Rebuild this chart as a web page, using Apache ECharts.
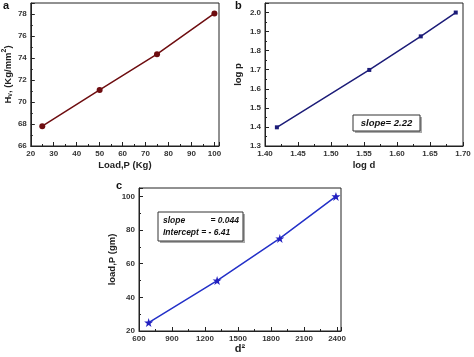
<!DOCTYPE html>
<html><head><meta charset="utf-8">
<script src="https://cdn.jsdelivr.net/npm/echarts@6/dist/echarts.min.js"></script>
<style>html,body{margin:0;padding:0;background:#fff}#c{width:474px;height:357px}</style>
</head><body><div id="c"></div>
<script>
// Panel a: Vickers hardness vs load
const loadA = [25, 50, 75, 100];
const hvA = [67.8, 71.1, 74.35, 78.05];
// Panel b: log p vs log d
const logD = [1.418, 1.558, 1.636, 1.689];
const logP = [1.398, 1.699, 1.875, 2.0];
// Panel c: load vs d^2
const d2C = [688, 1310, 1880, 2390];
const loadC = [25, 50, 75, 100];

const pairs = (xs, ys) => xs.map((x, i) => [x, ys[i]]);
const FONT = '"Liberation Sans", Arial, sans-serif';
const lbl = { fontFamily: FONT, fontSize: 8, fontWeight: 'bold', color: '#333', margin: 4 };
const nameStyle = { fontFamily: FONT, fontSize: 9.5, fontWeight: 'bold', color: '#222' };
function ax(o) {
  return Object.assign({
    type: 'value',
    axisLine: { show: true, lineStyle: { color: '#222', width: 1 } },
    axisTick: { show: true, inside: true, length: 4, lineStyle: { color: '#222' } },
    minorTick: { show: true, splitNumber: 2, length: 2, lineStyle: { color: '#222' } },
    splitLine: { show: false },
    nameLocation: 'middle',
    nameTextStyle: nameStyle
  }, o);
}
const chart = echarts.init(document.getElementById('c'), null, { renderer: 'canvas' });
const border = { show: true, borderColor: '#222', borderWidth: 1, backgroundColor: 'transparent' };
chart.setOption({
  animation: false,
  grid: [
    Object.assign({ left: 28, top: 3, width: 191, height: 143 }, border),
    Object.assign({ left: 265, top: 3, width: 198, height: 143 }, border),
    Object.assign({ left: 139, top: 188, width: 202, height: 143 }, border)
  ],
  xAxis: [
    ax({ gridIndex: 0, min: 20, max: 102, interval: 10, name: 'Load,P (Kg)', nameGap: 14,
      axisLabel: Object.assign({ showMaxLabel: false }, lbl) }),
    ax({ gridIndex: 1, min: 1.40, max: 1.70, interval: 0.05, name: 'log d', nameGap: 14,
      axisLabel: Object.assign({ formatter: v => v.toFixed(2) }, lbl) }),
    ax({ gridIndex: 2, min: 600, max: 2436, interval: 300, name: 'd²', nameGap: 10,
      nameTextStyle: Object.assign({}, nameStyle, { fontSize: 11 }),
      axisLabel: Object.assign({ showMaxLabel: false, formatter: v => String(Math.round(v)) }, lbl) })
  ],
  yAxis: [
    ax({ gridIndex: 0, min: 66, max: 79, interval: 2, name: '{b|H}{sub|v}{b|, (Kg/mm}{sup|2}{b|)}', nameGap: 13,
      nameTextStyle: Object.assign({}, nameStyle, { rich: {
        b: { fontFamily: FONT, fontSize: 9.5, fontWeight: 'bold', color: '#222' },
        sub: { fontFamily: FONT, fontSize: 6.5, fontWeight: 'bold', color: '#222', padding: [5, 0, 0, 0] },
        sup: { fontFamily: FONT, fontSize: 7, fontWeight: 'bold', color: '#222', padding: [0, 0, 7, 0] } } }),
      axisLabel: Object.assign({ showMaxLabel: false }, lbl) }),
    ax({ gridIndex: 1, min: 1.3, max: 2.05, interval: 0.1, name: 'log p', nameGap: 22,
      axisLabel: Object.assign({ showMaxLabel: false, formatter: v => v.toFixed(1) }, lbl) }),
    ax({ gridIndex: 2, min: 20, max: 105, interval: 20, name: 'load,P (gm)', nameGap: 17,
      axisLabel: Object.assign({ showMaxLabel: false }, lbl) })
  ],
  series: [
    { type: 'line', xAxisIndex: 0, yAxisIndex: 0, data: pairs(loadA, hvA), symbol: 'circle', symbolSize: 6,
      lineStyle: { color: '#6e0d10', width: 1.5 }, itemStyle: { color: '#6e0d10' } },
    { type: 'line', xAxisIndex: 1, yAxisIndex: 1, data: pairs(logD, logP), symbol: 'rect', symbolSize: 4,
      lineStyle: { color: '#1c1c78', width: 1.5 }, itemStyle: { color: '#1c1c78' } },
    { type: 'line', xAxisIndex: 2, yAxisIndex: 2, data: pairs(d2C, loadC),
      symbol: 'path://M50,0 L61.8,35.1 L98.8,35.1 L68.9,56.9 L80.3,92.1 L50,70.4 L19.7,92.1 L31.1,56.9 L1.2,35.1 L38.2,35.1 Z',
      symbolSize: 9, lineStyle: { color: '#2330c8', width: 1.5 }, itemStyle: { color: '#2320c0' } }
  ],
  graphic: [
    { type: 'text', left: 3, top: 0, style: { text: 'a', font: 'bold 11px ' + FONT, fill: '#111' } },
    { type: 'text', left: 235, top: 0, style: { text: 'b', font: 'bold 11px ' + FONT, fill: '#111' } },
    { type: 'text', left: 116, top: 180, style: { text: 'c', font: 'bold 11px ' + FONT, fill: '#111' } },
    { type: 'rect', shape: { x: 355, y: 117, width: 67, height: 16 }, style: { fill: '#aaa' } },
    { type: 'rect', shape: { x: 353, y: 115, width: 67, height: 16 }, style: { fill: '#fff', stroke: '#333', lineWidth: 1 } },
    { type: 'text', x: 386.5, y: 123, style: { text: 'slope= 2.22', font: 'italic bold 9.5px ' + FONT, fill: '#111', align: 'center', verticalAlign: 'middle' } },
    { type: 'rect', shape: { x: 160, y: 214, width: 85, height: 29 }, style: { fill: '#aaa' } },
    { type: 'rect', shape: { x: 158, y: 212, width: 85, height: 29 }, style: { fill: '#fff', stroke: '#333', lineWidth: 1 } },
    { type: 'text', x: 163, y: 221, style: { text: 'slope', font: 'italic bold 8.5px ' + FONT, fill: '#111', verticalAlign: 'middle' } },
    { type: 'text', x: 239, y: 221, style: { text: '= 0.044', font: 'italic bold 8.5px ' + FONT, fill: '#111', align: 'right', verticalAlign: 'middle' } },
    { type: 'text', x: 163, y: 233, style: { text: 'Intercept = - 6.41', font: 'italic bold 8.5px ' + FONT, fill: '#111', verticalAlign: 'middle' } }
  ]
});
</script></body></html>
